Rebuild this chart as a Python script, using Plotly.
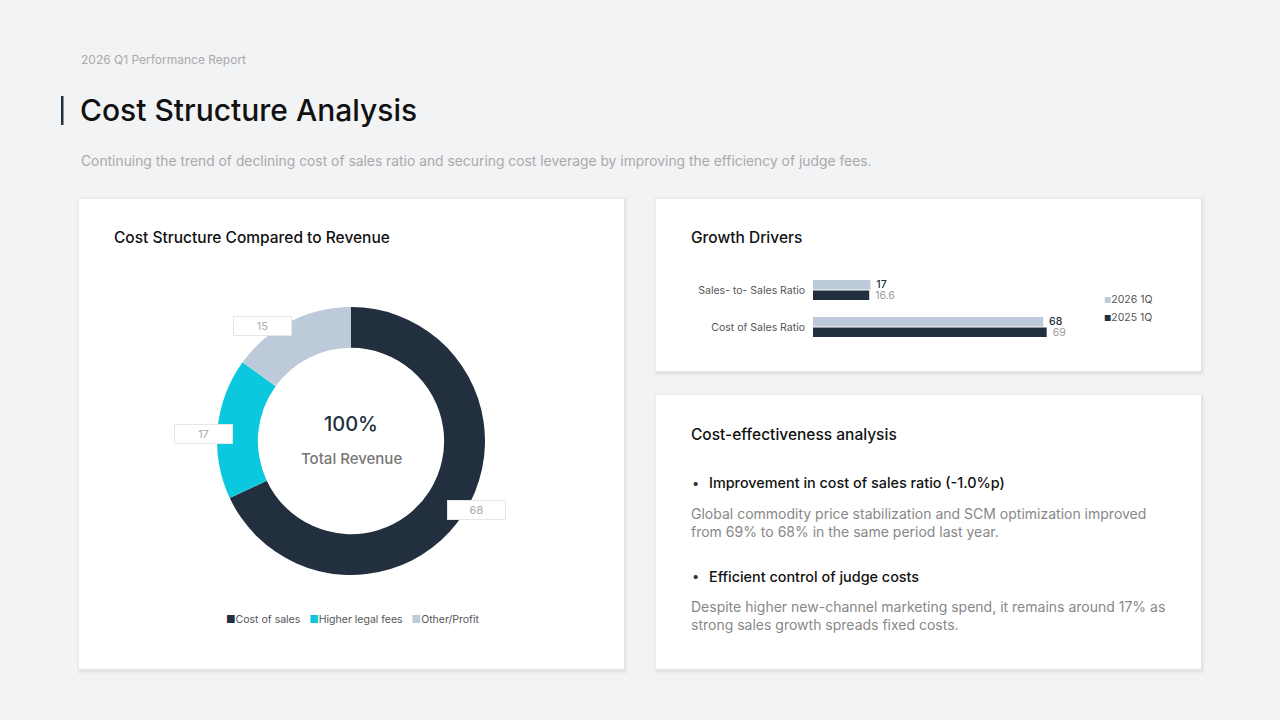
import math
import plotly.graph_objects as go

# donut data
cost_labels = ['Cost of sales', 'Higher legal fees', 'Other/Profit']
cost_values = [68, 17, 15]
cost_colors = ['#222f3e', '#0bc8de', '#bdcad9']

# growth driver bars
drivers = ['Sales- to- Sales Ratio', 'Cost of Sales Ratio']
q_2026 = [17, 68]
q_2025 = [16.6, 69]
series_names = ['2026 1Q', '2025 1Q']
series_colors = ['#bdcad9', '#222f3e']

FONT = 'Inter'
W, H = 1280, 720


def X(px):
    return px / W


def Y(py):
    return 1 - py / H


fig = go.Figure()

# cards with soft shadow
cards = [(79, 199, 624, 669), (656, 199, 1201, 371), (656, 395, 1201, 669)]
for x0, y0, x1, y1 in cards:
    for d, a in [(4, 0.025), (2, 0.04)]:
        fig.add_shape(type='rect', xref='paper', yref='paper',
                      x0=X(x0 - d + 2), x1=X(x1 + d), y0=Y(y1 + d + 1), y1=Y(y0 - d + 2),
                      fillcolor=f'rgba(0,0,0,{a})', line_width=0, layer='below')
    fig.add_shape(type='rect', xref='paper', yref='paper',
                  x0=X(x0), x1=X(x1), y0=Y(y1), y1=Y(y0),
                  fillcolor='white', line_width=0, layer='below')

# title accent bar
fig.add_shape(type='rect', xref='paper', yref='paper',
              x0=X(61), x1=X(63.5), y0=Y(125), y1=Y(96),
              fillcolor='#222f3e', line_width=0)

# donut
cx, cy, R = 351, 441, 134
fig.add_trace(go.Pie(
    labels=cost_labels, values=cost_values,
    marker=dict(colors=cost_colors, line=dict(width=0)),
    hole=0.695, sort=False, direction='clockwise', rotation=0,
    textinfo='none', showlegend=False,
    domain=dict(x=[X(cx - R), X(cx + R)], y=[Y(cy + R), Y(cy - R)]),
))

# bars
for name, vals, col, tcol in zip(series_names, [q_2026, q_2025], series_colors, ['#222f3e', '#999999']):
    fig.add_trace(go.Bar(
        y=drivers, x=vals, orientation='h', name=name,
        marker=dict(color=col, line_width=0),
        text=[f' {v:g}' for v in vals], textposition='outside',
        textfont=dict(family=FONT, size=10.5, color=tcol, weight=500 if tcol != '#999999' else 400),
        constraintext='none', cliponaxis=False, showlegend=False,
    ))

fig.update_xaxes(domain=[X(813), X(813 + 254)], range=[0, 75],
                 showgrid=False, zeroline=False, showticklabels=False, showline=False)
fig.update_yaxes(domain=[Y(345.5), Y(271.5)], range=[1.5, -0.5], type='category',
                 showgrid=False, zeroline=False, showline=False, ticks='',
                 ticklabelstandoff=7,
                 tickfont=dict(family=FONT, size=10.5, color='#555555'))

ann = []


def text(x, y, s, size, color, weight=400, xanchor='left'):
    if xanchor == 'left':
        x -= 2
    ann.append(dict(x=X(x), y=Y(y), xref='paper', yref='paper', text=s, showarrow=False,
                    xanchor=xanchor, yanchor='middle', align=xanchor,
                    font=dict(family=FONT, size=size, color=color, weight=weight)))


text(81, 59, '2026 Q1 Performance Report', 12, '#aaaaaa')
text(80, 110, 'Cost Structure Analysis', 30, '#111111', 500)
text(81, 161, 'Continuing the trend of declining cost of sales ratio and securing cost leverage '
              'by improving the efficiency of judge fees.', 13.85, '#aaaaaa')

text(114, 238, 'Cost Structure Compared to Revenue', 15.5, '#111111', 500)
text(691, 238, 'Growth Drivers', 15.5, '#111111', 500)
text(691, 434, 'Cost-effectiveness analysis', 15.5, '#111111', 500)

# donut centre
text(cx, 424, '100%', 20, '#222f3e', 500, 'center')
text(cx, 459, 'Total Revenue', 15, '#777777', 500, 'center')

# donut value labels placed around slice mid angles
label_nudge = [(3, -9), (-3, 7), (-23, 14)]
total = sum(cost_values)
acc = 0
for v, (nx, ny) in zip(cost_values, label_nudge):
    mid = (acc + v / 2) / total * 2 * math.pi
    acc += v
    lx = cx + 145 * math.sin(mid) + nx
    ly = cy - 145 * math.cos(mid) + ny
    ann.append(dict(x=X(lx), y=Y(ly), xref='paper', yref='paper', text=str(v), showarrow=False,
                    xanchor='center', yanchor='middle', width=55, height=16,
                    bgcolor='white', bordercolor='#e6e6e6', borderwidth=1, borderpad=1,
                    font=dict(family=FONT, size=11, color='#aaaaaa')))

# donut legend
sep = '\u00a0' * 3
items = [f'<span style="color:{c}">■</span>{l}' for l, c in zip(cost_labels, cost_colors)]
text(353, 619, sep.join(items), 10.5, '#555555', 400, 'center')

# bar legend
for i, (n, c) in enumerate(zip(series_names, series_colors)):
    text(1104, 299 + 18 * i, f'<span style="color:{c};font-size:8px">■</span>{n}', 10.5, '#555555')

# bullets
text(692, 483, '•', 13, '#333333')
text(709, 483, 'Improvement in cost of sales ratio (-1.0%p)', 14.4, '#111111', 500)
text(691, 522, 'Global commodity price stabilization and SCM optimization improved'
               '<br>from 69% to 68% in the same period last year.', 14, '#888888')
text(692, 576, '•', 13, '#333333')
text(709, 576, 'Efficient control of judge costs', 14.4, '#111111', 500)
text(691, 615, 'Despite higher new-channel marketing spend, it remains around 17% as'
               '<br>strong sales growth spreads fixed costs.', 14, '#888888')

fig.update_layout(
    width=W, height=H, margin=dict(l=0, r=0, t=0, b=0),
    paper_bgcolor='#f2f3f5', plot_bgcolor='rgba(0,0,0,0)',
    barmode='group', bargap=0.43, bargroupgap=0.1,
    annotations=ann, showlegend=False,
    font=dict(family=FONT),
)

fig.write_html('out.html', config={'displayModeBar': False},
               post_script="document.body.style.margin='0';")
